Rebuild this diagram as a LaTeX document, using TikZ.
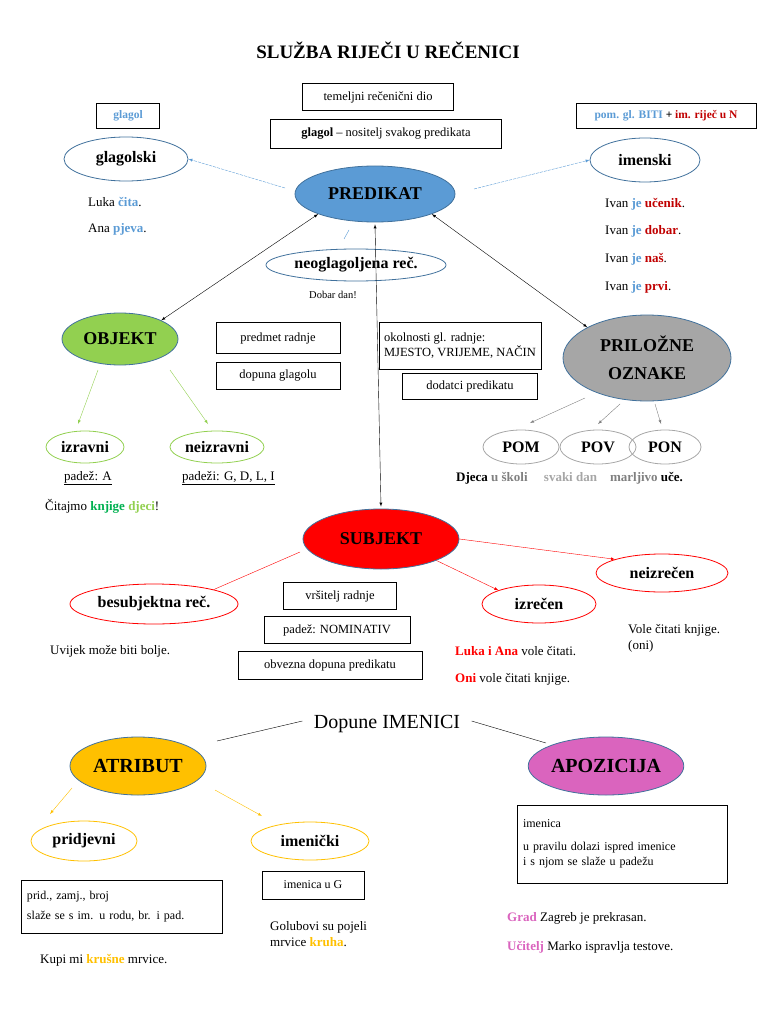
\documentclass[tikz,border=0pt]{standalone}
\usepackage{fontspec}
\setmainfont{Liberation Serif}
\usepackage{tikz}
\usetikzlibrary{shapes.geometric}
\definecolor{plava}{RGB}{91,155,213}
\definecolor{crvena}{RGB}{192,0,0}
\definecolor{zelena}{RGB}{0,176,80}
\definecolor{svzelena}{RGB}{146,208,80}
\definecolor{siva}{RGB}{128,128,128}
\definecolor{svsiva}{RGB}{166,166,166}
\definecolor{narancasta}{RGB}{255,192,0}
\definecolor{roza}{RGB}{218,100,190}
\definecolor{rub}{RGB}{65,113,156}
\tikzset{
  elip/.style={ellipse, draw, line width=0.8pt, inner sep=0pt, font=\fontsize{16}{18}\selectfont\bfseries},
  kutija/.style={draw, line width=0.6pt, inner sep=5pt, font=\fontsize{12.5}{15}\selectfont, align=left},
  tekst/.style={font=\fontsize{13}{16}\selectfont, anchor=west, inner sep=0pt},
  strel/.style={-latex, thin}
}
\begin{document}
\begin{tikzpicture}[x=1pt,y=-1pt]
  \useasboundingbox (0,0) rectangle (768,1024);
  % naslov
  \node[font=\fontsize{19}{22}\selectfont\bfseries] (naslov) at (388,50) {SLUŽBA RIJEČI U REČENICI};
  % kutije predikata
  \node[kutija, minimum width=151, minimum height=27] (temelj) at (378,97) {temeljni rečenični dio};
  \node[kutija, minimum width=231, minimum height=29] (nositelj) at (386,134) {\textbf{glagol} -- nositelj svakog predikata};
  \node[kutija, minimum width=63, minimum height=25, text=plava, font=\fontsize{11.5}{13}\selectfont\bfseries] (glagol) at (128,116) {glagol};
  \node[kutija, minimum width=180, minimum height=25, font=\fontsize{11.5}{13}\selectfont\bfseries] (biti) at (666,116) {\textcolor{plava}{pom. gl. BITI} + \textcolor{crvena}{im. riječ u N}};
  % predikat
  \node[elip, draw=rub, fill=plava, minimum width=160, minimum height=56, font=\fontsize{18}{20}\selectfont\bfseries] (pred) at (375,194) {PREDIKAT};
  \node[elip, draw=rub, minimum width=124, minimum height=44] (glagolski) at (126,159) {glagolski};
  \node[elip, draw=rub, minimum width=110, minimum height=44] (imenski) at (645,160) {imenski};
  \node[elip, draw=rub, minimum width=180, minimum height=32] (neoglag) at (356,265) {neoglagoljena reč.};
  \node[font=\fontsize{10.5}{12}\selectfont] (dobar) at (333,295) {Dobar dan!};
  \coordinate (crtaA) at (349,230);
  \coordinate (crtaB) at (344,239);
  \draw[plava, thin] (crtaA) -- (crtaB);
  \coordinate (pl) at (285,188);
  \coordinate (pd) at (474,189);
  \draw[strel, plava, dash pattern=on 3pt off 1pt] (pl) -- (glagolski.east);
  \draw[strel, plava, dash pattern=on 3pt off 1pt] (pd) -- (imenski.west);
  % primjeri predikata
  \node[tekst] (luka) at (88,202) {Luka \textcolor{plava}{\bfseries čita}.};
  \node[tekst] (ana) at (88,229) {Ana \textcolor{plava}{\bfseries pjeva}.};
  \foreach \y/\rijec in {204/učenik,231/dobar,259/naš,287/prvi}
    \node[tekst] at (605,\y) {Ivan \textcolor{plava}{\bfseries je} \textcolor{crvena}{\bfseries \rijec}.};
  % objekt
  \node[elip, draw=rub, fill=svzelena, minimum width=116, minimum height=52, font=\fontsize{18}{20}\selectfont\bfseries] (objekt) at (120,339) {OBJEKT};
  \node[kutija, minimum width=124, minimum height=31] (predmet) at (278,338) {predmet radnje};
  \node[kutija, minimum width=124, minimum height=27] (dopuna) at (278,376) {dopuna glagolu};
  \node[elip, draw=svzelena, minimum width=78, minimum height=32] (izravni) at (85,447) {izravni};
  \node[elip, draw=svzelena, minimum width=94, minimum height=32] (neizravni) at (217,447) {neizravni};
  \coordinate (oa) at (98,370);
  \coordinate (ob) at (170,370);
  \draw[strel, svzelena] (oa) -- (78,424) coordinate (oa2);
  \draw[strel, svzelena] (ob) -- (208,424) coordinate (ob2);
  \node[tekst] (padezA) at (64,478) {\underline{padež: A}};
  \node[tekst] (padeziG) at (182,478) {\underline{padeži: G, D, L, I}};
  \node[tekst] (citajmo) at (45,506) {Čitajmo \textcolor{zelena}{\bfseries knjige} \textcolor{svzelena}{\bfseries djeci}!};
  % priložne oznake
  \node[kutija, minimum width=154, minimum height=47] (okolnosti) at (460,346) {okolnosti gl. radnje:\\MJESTO, VRIJEME, NAČIN};
  \node[kutija, minimum width=135, minimum height=26] (dodatci) at (470,386) {dodatci predikatu};
  \node[elip, draw=rub, fill=svsiva, minimum width=168, minimum height=86, align=center, font=\fontsize{18}{28}\selectfont\bfseries] (prilozne) at (647,358) {PRILOŽNE\\OZNAKE};
  \node[elip, draw=svsiva, minimum width=76, minimum height=34] (pom) at (521,447) {POM};
  \node[elip, draw=svsiva, minimum width=76, minimum height=34] (pov) at (598,447) {POV};
  \node[elip, draw=svsiva, minimum width=72, minimum height=34] (pon) at (665,447) {PON};
  \coordinate (pa) at (585,398);
  \coordinate (pb) at (620,404);
  \coordinate (pc) at (655,404);
  \draw[strel, siva] (pa) -- (530,423);
  \draw[strel, siva] (pb) -- (598,424);
  \draw[strel, siva] (pc) -- (661,424);
  \node[tekst] (djeca) at (456,478) {\bfseries Djeca \textcolor{siva}{u školi} \quad\textcolor{svsiva}{svaki dan}\quad \textcolor{siva}{marljivo} uče.};
  % veze s predikatom
  \draw[latex-latex, thin] (pred.south west) -- (objekt.north east);
  \draw[latex-latex, thin] (pred.south east) -- (prilozne.north west);
  % subjekt
  \node[elip, draw=rub, fill=red, minimum width=156, minimum height=60, font=\fontsize{18}{20}\selectfont\bfseries] (subjekt) at (381,539) {SUBJEKT};
  \draw[latex-latex, thin] ([yshift=-2]pred.south) -- ([yshift=2]subjekt.north);
  \node[elip, draw=red, minimum width=168, minimum height=40] (besubj) at (154,604) {besubjektna reč.};
  \node[elip, draw=red, minimum width=114, minimum height=38] (izrecen) at (539,604) {izrečen};
  \node[elip, draw=red, minimum width=132, minimum height=38] (neizrecen) at (662,573) {neizrečen};
  \coordinate (sa) at (300,552);
  \draw[red, thin] (sa) -- (besubj.north east);
  \draw[strel, red] (subjekt.south east) -- (izrecen.north west);
  \draw[strel, red] (subjekt.east) -- (neizrecen.north west);
  \node[kutija, minimum width=113, minimum height=27] (vrsitelj) at (340,596) {vršitelj radnje};
  \node[kutija, minimum width=146, minimum height=27] (nominativ) at (337,630) {padež: NOMINATIV};
  \node[kutija, minimum width=184, minimum height=28] (obvezna) at (330,665) {obvezna dopuna predikatu};
  \node[tekst] (uvijek) at (50,651) {Uvijek može biti bolje.};
  \node[tekst] (lukaana) at (455,651) {\textcolor{red}{\bfseries Luka i Ana} vole čitati.};
  \node[tekst] (oni) at (455,679) {\textcolor{red}{\bfseries Oni} vole čitati knjige.};
  \node[tekst, align=left] (vole) at (628,638) {Vole čitati knjige.\\(oni)};
  % dopune imenici
  \node[font=\fontsize{20}{24}\selectfont] (dopune) at (387,724) {Dopune IMENICI};
  \node[elip, draw=rub, fill=narancasta, minimum width=136, minimum height=58, font=\fontsize{20}{22}\selectfont\bfseries] (atribut) at (138,766) {ATRIBUT};
  \node[elip, draw=rub, fill=roza, minimum width=150, minimum height=58, font=\fontsize{20}{22}\selectfont\bfseries] (apozicija) at (606,766) {APOZICIJA};
  \draw[thin] ([xshift=-8,yshift=3]dopune.west) -- (217,741) coordinate (da);
  \draw[thin] ([xshift=8,yshift=3]dopune.east) -- (546,743) coordinate (db);
  \node[elip, draw=narancasta, minimum width=106, minimum height=40] (pridjevni) at (84,841) {pridjevni};
  \node[elip, draw=narancasta, minimum width=118, minimum height=38] (imenicki) at (310,841) {imenički};
  \coordinate (aa) at (72,788);
  \coordinate (ab) at (215,790);
  \draw[strel, narancasta] (aa) -- (50,814);
  \draw[strel, narancasta] (ab) -- (262,816);
  \node[kutija, minimum width=201, minimum height=53, text width=190, font=\fontsize{12}{20}\selectfont] (prid) at (122,907) {prid., zamj., broj\\slaže se s im. u rodu, br. i pad.};
  \node[kutija, minimum width=102, minimum height=28, font=\fontsize{12}{14}\selectfont] (imenicaG) at (313,885) {imenica u G};
  \node[kutija, minimum width=210, minimum height=78, text width=198, font=\fontsize{12}{15}\selectfont] (imenica) at (622,844) {imenica\\[8pt]u pravilu dolazi ispred imenice\\i s njom se slaže u padežu};
  \node[tekst, align=left] (golubovi) at (270,934) {Golubovi su pojeli\\mrvice \textcolor{narancasta}{\bfseries kruha}.};
  \node[tekst] (kupi) at (40,960) {Kupi mi \textcolor{narancasta}{\bfseries krušne} mrvice.};
  \node[tekst] (grad) at (507,918) {\textcolor{roza}{\bfseries Grad} Zagreb je prekrasan.};
  \node[tekst] (ucitelj) at (507,947) {\textcolor{roza}{\bfseries Učitelj} Marko ispravlja testove.};
\end{tikzpicture}
\end{document}
